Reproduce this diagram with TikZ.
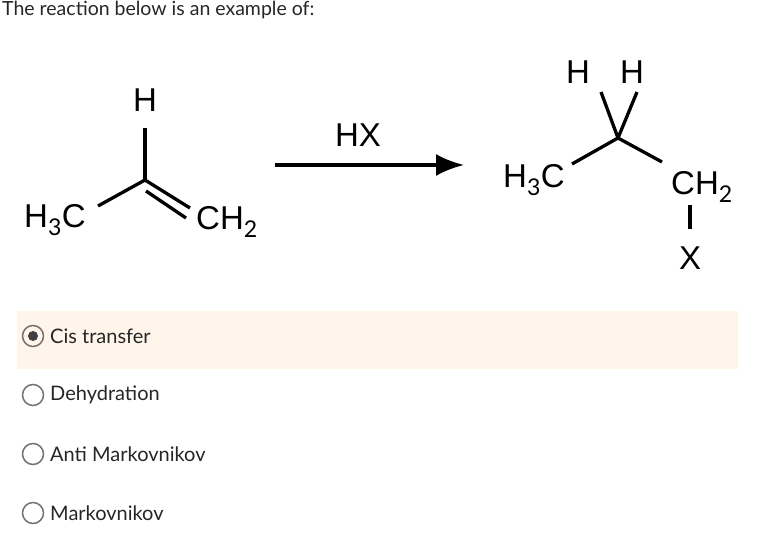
\documentclass[tikz,border=0pt]{standalone}
\usepackage{fontspec}
\usetikzlibrary{arrows.meta}
\setmainfont{Lato}
\newfontfamily\molfont{Liberation Sans}
\begin{document}
\begin{tikzpicture}[x=1pt,y=-1pt,
  mol/.style={font=\molfont\fontsize{33}{35}\selectfont,inner sep=0pt},
  bond/.style={line width=3.3pt},
  opt/.style={font=\fontsize{20}{22}\selectfont,anchor=west,inner sep=0pt,text=black!85},
  radio/.style={circle,draw=black!55,line width=1.5pt,minimum size=21pt,inner sep=0pt}]
\useasboundingbox (0,0) rectangle (772,548);
\node[anchor=north west,inner sep=0pt,font=\fontsize{19.5}{22}\selectfont,text=black!85] (title) at (2,1) {The reaction below is an example of:};
% left molecule
\node[mol] (h1) at (145,100) {H};
\node[mol] (l1) at (55,220) {H$_{\mathrm 3}$C};
\node[mol] (r1) at (227,222) {CH$_{\mathrm 2}$};
\coordinate (c1) at (145,180);
\draw[bond] (145,128) -- (c1);
\draw[bond] (c1) -- (98,206);
\draw[bond] (c1) -- (190,208);
\draw[bond] (146,191) -- (186,218);
% arrow
\node[mol] (hx) at (358,135) {HX};
\coordinate (a1) at (275,165);
\coordinate (a2) at (464,165);
\draw[line width=3.3pt,-{Latex[length=28pt,width=22pt]}] (a1) -- (a2);
% right molecule
\node[mol] (h2) at (578,72) {H};
\node[mol] (h3) at (632,72) {H};
\coordinate (c2) at (618,138);
\draw[bond] (c2) -- (601,92);
\draw[bond] (c2) -- (637,92);
\draw[bond] (c2) -- (572,164);
\draw[bond] (c2) -- (662,162);
\node[mol] (l2) at (534,180) {H$_{\mathrm 3}$C};
\node[mol] (r2) at (702,187) {CH$_{\mathrm 2}$};
\node[mol] (x) at (690,258) {X};
\draw[bond] (690,205) -- (690,229);
% options
\fill[orange!8] (17,311) rectangle (738,369);
\node[radio] (o1) at (33,336) {};
\fill[black!75] (o1) circle (5pt);
\node[opt] (t1) at (50,336) {Cis transfer};
\node[radio] (o2) at (33,395) {};
\node[opt] (t2) at (50,395) {Dehydration};
\node[radio] (o3) at (33,454) {};
\node[opt] (t3) at (50,454) {Anti Markovnikov};
\node[radio] (o4) at (33,513) {};
\node[opt] (t4) at (50,513) {Markovnikov};
\end{tikzpicture}
\end{document}
